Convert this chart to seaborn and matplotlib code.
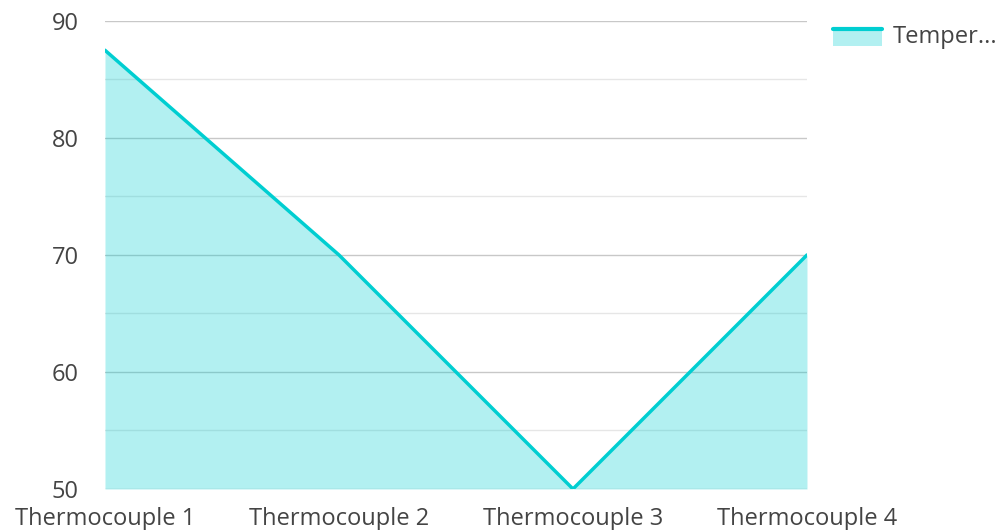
import numpy as np
import pandas as pd
import matplotlib
matplotlib.use("Agg")
import matplotlib.pyplot as plt
import seaborn as sns
from matplotlib.lines import Line2D
from matplotlib.patches import Rectangle
from matplotlib.legend_handler import HandlerBase

# données
sensors = ["Thermocouple 1", "Thermocouple 2", "Thermocouple 3", "Thermocouple 4"]
temperature = [87.5, 70, 50, 70]
series_name = "Temper..."

df = pd.DataFrame({"sensor": sensors, "temp": temperature})
df["pos"] = np.arange(len(df))

sns.set_style("white")
plt.rcParams["font.family"] = ["Open Sans", "DejaVu Sans"]

line_col = "#00CED1"
text_col = "#444444"


class AreaHandler(HandlerBase):
    # patch clair avec le trait en haut, comme la légende d'origine
    def create_artists(self, legend, orig, xd, yd, w, h, fs, trans):
        top = yd + h * 0.85
        r = Rectangle((xd, yd - h * 0.15), w, h * 1.0, facecolor=line_col, alpha=0.3,
                      lw=0, transform=trans)
        l = Line2D([xd, xd + w], [top, top], color=line_col, lw=3, transform=trans)
        return [r, l]


fig = plt.figure(figsize=(9.97, 5.3), dpi=100)
ax = fig.add_axes([0.1053, 0.0774, 0.7041, 0.883])

# grille
for v in [55, 65, 75, 85]:
    ax.axhline(v, color="#E6E6E6", lw=1, zorder=0)
for v in [50, 60, 70, 80, 90]:
    ax.axhline(v, color="#C8C8C8", lw=1, zorder=0)

ax.fill_between(df["pos"], df["temp"], 50, color=line_col, alpha=0.3, lw=0, zorder=1)
sns.lineplot(data=df, x="pos", y="temp", color=line_col, lw=2.5, ax=ax, zorder=3)

ax.set_xlim(0, 3)
ax.set_ylim(50, 90)
ax.set_yticks([50, 60, 70, 80, 90])
ax.set_xticks(df["pos"])
ax.set_xticklabels(sensors)
ax.tick_params(axis="both", labelsize=17, colors=text_col, length=0)
ax.tick_params(axis="y", pad=19)
ax.tick_params(axis="x", pad=13)
ax.set_xlabel("")
ax.set_ylabel("")
for s in ax.spines.values():
    s.set_visible(False)

fig.legend([object()], [series_name], loc="upper left", bbox_to_anchor=(0.828, 0.966),
           frameon=False, fontsize=17, labelcolor=text_col,
           handler_map={object: AreaHandler()}, handlelength=2.1, handletextpad=0.45,
           borderaxespad=0, borderpad=0.3)

fig.savefig("out.png", dpi=100)
